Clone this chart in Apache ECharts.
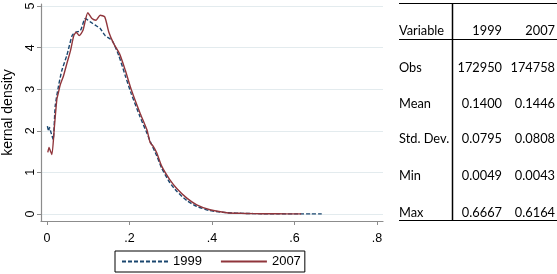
<!DOCTYPE html>
<html><head><meta charset="utf-8">
<script src="https://cdn.jsdelivr.net/npm/echarts@6/dist/echarts.min.js"></script>
<style>html,body{margin:0;padding:0;background:#fff}#c{width:557px;height:274px}</style>
</head><body><div id="c"></div>
<script>
// ---- data ----
const x1999 = [0.001,0.004,0.006,0.010,0.015,0.020,0.028,0.036,0.048,0.061,0.069,0.081,0.093,0.105,0.117,0.129,0.141,0.158,0.174,0.190,0.204,0.225,0.242,0.250,0.266,0.278,0.298,0.314,0.339,0.363,0.395,0.436,0.48,0.52,0.56,0.60,0.64,0.666];
const y1999 = [2.11,1.99,2.08,1.95,1.79,2.6,3.08,3.45,3.81,4.29,4.37,4.41,4.70,4.62,4.54,4.46,4.29,4.17,3.81,3.32,2.9,2.35,1.95,1.75,1.4,1.1,0.75,0.55,0.32,0.18,0.08,0.03,0.012,0.006,0.003,0.002,0.001,0.001];
const x2007 = [0.002,0.005,0.008,0.012,0.018,0.024,0.028,0.032,0.040,0.048,0.057,0.065,0.071,0.078,0.087,0.099,0.109,0.119,0.129,0.140,0.150,0.162,0.176,0.190,0.204,0.225,0.242,0.250,0.258,0.266,0.278,0.298,0.314,0.339,0.363,0.395,0.436,0.47,0.50,0.54,0.58,0.616];
const y2007 = [1.48,1.6,1.52,1.43,2.1,2.76,2.93,3.1,3.32,3.61,3.93,4.29,4.37,4.29,4.41,4.84,4.70,4.66,4.78,4.74,4.37,4.09,3.85,3.45,3.0,2.44,2.03,1.72,1.62,1.47,1.15,0.82,0.62,0.38,0.22,0.10,0.03,0.015,0.008,0.004,0.002,0.001];
const xTicks = [0, 0.2, 0.4, 0.6, 0.8];
const yTicks = [0, 1, 2, 3, 4, 5];
const seriesNames = ['1999', '2007'];
const tableHeader = ['Variable', '1999', '2007'];
const tableRows = ['Obs', 'Mean', 'Std. Dev.', 'Min', 'Max'];
const col1999 = ['172950', '0.1400', '0.0795', '0.0049', '0.6667'];
const col2007 = ['174758', '0.1446', '0.0808', '0.0043', '0.6164'];

const zip = (xs, ys) => xs.map((v, i) => [v, ys[i]]);
const chart = echarts.init(document.getElementById('c'), null, {renderer: 'canvas'});

// table graphics
const tfont = '12.8px Lato';
const g = [];
const rowY = [68, 104, 139, 176, 213];
const lineStyle = {stroke: '#000', lineWidth: 1.2};
g.push({type: 'line', shape: {x1: 399, y1: 3.5, x2: 557, y2: 3.5}, style: lineStyle});
g.push({type: 'line', shape: {x1: 399, y1: 39.5, x2: 557, y2: 39.5}, style: lineStyle});
g.push({type: 'line', shape: {x1: 399, y1: 220.5, x2: 557, y2: 220.5}, style: lineStyle});
g.push({type: 'line', shape: {x1: 452.5, y1: 3, x2: 452.5, y2: 221}, style: {stroke: '#000', lineWidth: 1.5}});
g.push({type: 'text', x: 399, y: 31, style: {text: tableHeader[0], font: tfont, fill: '#000', verticalAlign: 'middle'}});
g.push({type: 'text', x: 502, y: 31, style: {text: tableHeader[1], font: tfont, fill: '#000', align: 'right', verticalAlign: 'middle'}});
g.push({type: 'text', x: 555, y: 31, style: {text: tableHeader[2], font: tfont, fill: '#000', align: 'right', verticalAlign: 'middle'}});
tableRows.forEach((r, i) => {
  g.push({type: 'text', x: 399, y: rowY[i], style: {text: r, font: tfont, fill: '#000', verticalAlign: 'middle'}});
  g.push({type: 'text', x: 502, y: rowY[i], style: {text: col1999[i], font: tfont, fill: '#000', align: 'right', verticalAlign: 'middle'}});
  g.push({type: 'text', x: 555, y: rowY[i], style: {text: col2007[i], font: tfont, fill: '#000', align: 'right', verticalAlign: 'middle'}});
});

const option = {
  animation: false,
  backgroundColor: '#fff',
  textStyle: {fontFamily: 'Liberation Sans'},
  grid: {left: 41, top: 4, right: 174, bottom: 53, containLabel: false, outerBoundsMode: 'none'},
  xAxis: {
    type: 'value', min: -0.0145, max: 0.8145,
    axisLine: {show: true, onZero: false, lineStyle: {color: '#8c8c8c', width: 1.2}},
    axisTick: {show: true, length: 4, customValues: xTicks, lineStyle: {color: '#8c8c8c'}},
    axisLabel: {customValues: xTicks, color: '#000', fontSize: 12.5, margin: 11,
      formatter: v => v === 0 ? '0' : String(v).replace(/^0/, '')},
    splitLine: {show: false}
  },
  yAxis: {
    type: 'value', min: -0.17, max: 5.05,
    name: 'kernal density', nameLocation: 'middle', nameGap: 26,
    nameTextStyle: {color: '#000', fontSize: 14, fontFamily: 'Liberation Sans'},
    axisLine: {show: true, onZero: false, lineStyle: {color: '#8c8c8c', width: 1.2}},
    axisTick: {show: true, length: 4, customValues: yTicks, lineStyle: {color: '#8c8c8c'}},
    axisLabel: {customValues: yTicks, color: '#000', fontSize: 12.5, rotate: 90, margin: 4},
    splitLine: {show: true, lineStyle: {color: '#e3ebee', width: 1}}
  },
  legend: {
    left: 115, top: 251, width: 190, orient: 'horizontal',
    data: seriesNames, itemWidth: 46, itemHeight: 10, itemGap: 18,
    itemStyle: {opacity: 0},
    borderColor: '#000', borderWidth: 1, borderRadius: 0, padding: [4, 4, 4, 6],
    textStyle: {color: '#000', fontSize: 13, fontFamily: 'Liberation Sans'}
  },
  series: [
    {name: seriesNames[0], type: 'line', data: zip(x1999, y1999), showSymbol: false, symbol: 'none', smooth: 0.2,
     color: '#1a476f', lineStyle: {color: '#1a476f', width: 1.4, type: [4, 2]}},
    {name: seriesNames[1], type: 'line', data: zip(x2007, y2007), showSymbol: false, symbol: 'none', smooth: 0.2,
     color: '#90353b', lineStyle: {color: '#90353b', width: 1.4}}
  ],
  graphic: g
};
chart.setOption(option);
</script></body></html>
